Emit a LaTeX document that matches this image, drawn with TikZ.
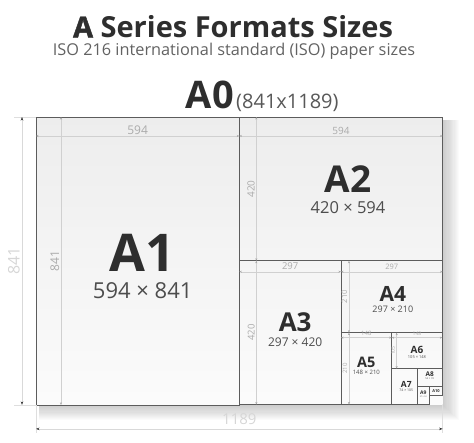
\documentclass[tikz,border=0pt]{standalone}
\usepackage{fontspec}
\setmainfont{Open Sans}
\newfontfamily\heavy{Open Sans}[BoldFeatures={FakeBold=1.5}]
\usetikzlibrary{arrows.meta,positioning,backgrounds}

\definecolor{frameline}{HTML}{5C5C5C}
\definecolor{dimline}{HTML}{D0D0D0}
\definecolor{dimtext}{HTML}{ABABAB}
\definecolor{outertext}{HTML}{D6D6D6}
\definecolor{ink}{HTML}{2E2E2E}

\newcommand{\fs}[1]{\fontsize{#1}{#1}\selectfont}

\begin{document}
\begin{tikzpicture}[x=1pt,y=-1pt,
    sheet/.style 2 args={draw=frameline, line width=0.7pt, outer sep=0pt, inner sep=0pt,
                         minimum width=#1*0.3423pt, minimum height=#2*0.3423pt},
    sheetname/.style={text=ink, inner sep=0pt, anchor=base, font=\bfseries\fs{#1}},
    sheetsize/.style={text=ink!85, inner sep=0pt, anchor=base, font=\fs{#1}},
    dimen/.style={draw=dimline, line width=0.4pt,
                  {Stealth[length=2.5pt,width=2pt,color=gray!70]}-{Stealth[length=2.5pt,width=2pt,color=gray!70]}},
    dimlabel/.style={text=dimtext, inner sep=1.5pt, font=\fs{#1}},
    outerdim/.style={draw=dimline!80, line width=0.5pt,
                  {Stealth[length=3.5pt,width=2.5pt,color=black!80]}-{Stealth[length=3.5pt,width=2.5pt,color=black!80]}},
    extline/.style={draw=dimline!70, line width=0.4pt}]

  \useasboundingbox (0,0) rectangle (474,442);

  %Titles%
  \node[text=ink, font=\bfseries\fs{29}, anchor=base] (title) at (233,37.5) {{\heavy\bfseries A} Series Formats Sizes};
  \node[text=ink!75, font=\fs{16.3}, anchor=base] (subtitle) at (234,55) {ISO 216 international standard (ISO) paper sizes};
  \node[text=ink, font=\bfseries\fs{38}, inner sep=0pt, anchor=base east] (A0) at (234,108) {A0};
  \node[text=ink!80, font=\fs{20}, inner sep=0pt, right=2pt of A0.base east, anchor=base west] (A0size) {(841x1189)};

  %Sheets%
  \node[sheet={594}{841}, anchor=north west] (A1) at (36,117) {};
  \node[sheet={594}{420}, below right=0pt of A1.north east] (A2) {};
  \node[sheet={297}{420}, below right=0pt of A2.south west] (A3) {};
  \node[sheet={297}{210}, below right=0pt of A3.north east] (A4) {};
  \node[sheet={148}{210}, below right=0pt of A4.south west] (A5) {};
  \node[sheet={148}{105}, below right=0pt of A5.north east] (A6) {};
  \node[sheet={74}{105}, below right=0pt of A6.south west] (A7) {};
  \node[sheet={74}{52}, below right=0pt of A7.north east] (A8) {};
  \node[sheet={37}{52}, below right=0pt of A8.south west] (A9) {};
  \node[sheet={37}{26}, below right=0pt of A9.north east] (A10) {};
  \coordinate (frame se) at (A2.east |- A1.south);

  %Names and sizes%
  \node[sheetname=52] at ([xshift=5pt,yshift=-11pt]A1.center) {A1};
  \node[sheetsize=22] at ([xshift=5pt,yshift=-37.5pt]A1.center) {594 × 841};
  \node[sheetname=37] at ([xshift=7pt,yshift=-4pt]A2.center) {A2};
  \node[sheetsize=16.5] at ([xshift=7pt,yshift=-25pt]A2.center) {420 × 594};
  \node[sheetname=26] at ([xshift=5pt,yshift=1pt]A3.center) {A3};
  \node[sheetsize=12] at ([xshift=5pt,yshift=-13.5pt]A3.center) {297 × 420};
  \node[sheetname=21] at ([xshift=1pt,yshift=-5pt]A4.center) {A4};
  \node[sheetsize=9] at ([xshift=1pt,yshift=-15.5pt]A4.center) {297 × 210};
  \node[sheetname=14.5] at ([yshift=1pt]A5.center) {A5};
  \node[sheetsize=6] at ([yshift=-6pt]A5.center) {148 × 210};
  \node[sheetname=10] at ([yshift=-3pt]A6.center) {A6};
  \node[sheetsize=4] at ([yshift=-7.5pt]A6.center) {105 × 148};
  \node[sheetname=8.5] at ([xshift=2pt,yshift=-1pt]A7.center) {A7};
  \node[sheetsize=3.5] at ([xshift=2pt,yshift=-4.5pt]A7.center) {74 × 105};
  \node[sheetname=6.5] at ([yshift=1pt]A8.center) {A8};
  \node[sheetsize=2.5] at ([yshift=-2pt]A8.center) {52 × 74};
  \node[sheetname=5] at ([yshift=1pt]A9.center) {A9};
  \node[sheetsize=2] at ([yshift=-2pt]A9.center) {37 × 52};
  \node[sheetname=4] at ([yshift=-1.5pt]A10.center) {A10};

  %Dimension lines%
  \draw[dimen] ([yshift=-19pt]A1.north west) -- node[dimlabel=12, anchor=south] {594} ([yshift=-19pt]A1.north east);
  \draw[dimen] ([xshift=25pt]A1.north west) -- node[dimlabel=12, rotate=90, anchor=south] {841} ([xshift=25pt]A1.south west);
  \draw[dimen] ([yshift=-19pt]A2.north west) -- node[dimlabel=10, anchor=south] {594} ([yshift=-19pt]A2.north east);
  \draw[dimen] ([xshift=17pt]A2.north west) -- node[dimlabel=10, rotate=90, anchor=south] {420} ([xshift=17pt]A2.south west);
  \draw[dimen] ([yshift=-11pt]A3.north west) -- node[dimlabel=9.5, anchor=south] {297} ([yshift=-11pt]A3.north east);
  \draw[dimen] ([xshift=17pt]A3.north west) -- node[dimlabel=9.5, rotate=90, anchor=south] {420} ([xshift=17pt]A3.south west);
  \draw[dimen] ([yshift=-11pt]A4.north west) -- node[dimlabel=7.5, anchor=south] {297} ([yshift=-11pt]A4.north east);
  \draw[dimen] ([xshift=8pt]A4.north west) -- node[dimlabel=7.5, rotate=90, anchor=south] {210} ([xshift=8pt]A4.south west);
  \draw[dimen] ([yshift=-5pt]A5.north west) -- node[dimlabel=6, anchor=south] {148} ([yshift=-5pt]A5.north east);
  \draw[dimen] ([xshift=8pt]A5.north west) -- node[dimlabel=6, rotate=90, anchor=south] {210} ([xshift=8pt]A5.south west);
  \draw[dimen] ([yshift=-5pt]A6.north west) -- node[dimlabel=5, anchor=south] {148} ([yshift=-5pt]A6.north east);
  \draw[dimen] ([xshift=5pt]A6.north west) -- node[dimlabel=5, rotate=90, anchor=south] {105} ([xshift=5pt]A6.south west);

  %Outer dimensions%
  \draw[extline] ([xshift=-22pt]A1.north west) -- (A1.north west);
  \draw[extline] ([xshift=-22pt]A1.south west) -- (A1.south west);
  \draw[extline] (A1.south west) -- ([yshift=-28pt]A1.south west);
  \draw[extline] (frame se) -- ([yshift=-28pt]frame se);
  \draw[outerdim] ([xshift=-14pt]A1.north west) -- node[text=outertext, font=\fs{16}, rotate=90, anchor=south, inner sep=2pt] {841} ([xshift=-14pt]A1.south west);
  \draw[outerdim] ([yshift=-24pt]A1.south west) -- node[text=outertext, font=\fs{15}, anchor=south, inner sep=4pt] {1189} ([yshift=-24pt]frame se);

  %Shadow and paper tone%
  \begin{scope}[on background layer]
    \foreach \d in {1,...,14}
      \fill[black, opacity=0.016] ([xshift=3pt,yshift=-3pt]A1.north west) rectangle ([xshift=\d*1.2pt,yshift=-\d*1.1pt]frame se);
    \shade[top color=gray!14, bottom color=gray!3] (A1.north west) rectangle (frame se);
  \end{scope}
\end{tikzpicture}
\end{document}
